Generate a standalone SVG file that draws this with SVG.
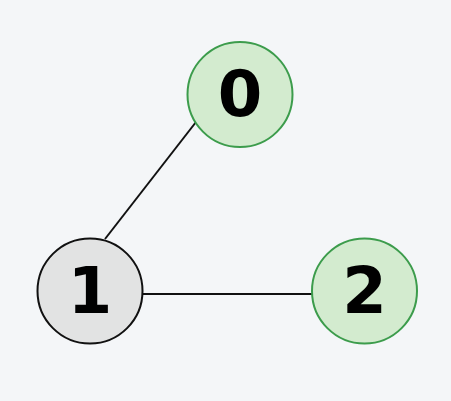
<svg xmlns="http://www.w3.org/2000/svg" width="451" height="401" viewBox="0 0 451 401">
<style>
.edge{stroke:#111;stroke-width:2;fill:none}
.g{fill:#d3ebcf;stroke:#3c9c4c;stroke-width:2}
.n{fill:#e2e3e3;stroke:#111;stroke-width:2}
.t{font-family:"DejaVu Sans",sans-serif;font-weight:bold;font-size:64px;fill:#000;text-anchor:middle}
</style>
<rect width="451" height="401" fill="#f4f6f8"/>
<g id="edges">
<line class="edge" x1="105" y1="239" x2="196" y2="122"/>
<line class="edge" x1="143" y1="294" x2="312" y2="294"/>
</g>
<g id="node0"><circle class="g" cx="240" cy="94.5" r="52.5"/><text class="t" x="240" y="116">0</text></g>
<g id="node1"><circle class="n" cx="90" cy="291" r="52.5"/><text class="t" x="90" y="313">1</text></g>
<g id="node2"><circle class="g" cx="364.5" cy="291" r="52.5"/><text class="t" x="364.5" y="313">2</text></g>
</svg>
